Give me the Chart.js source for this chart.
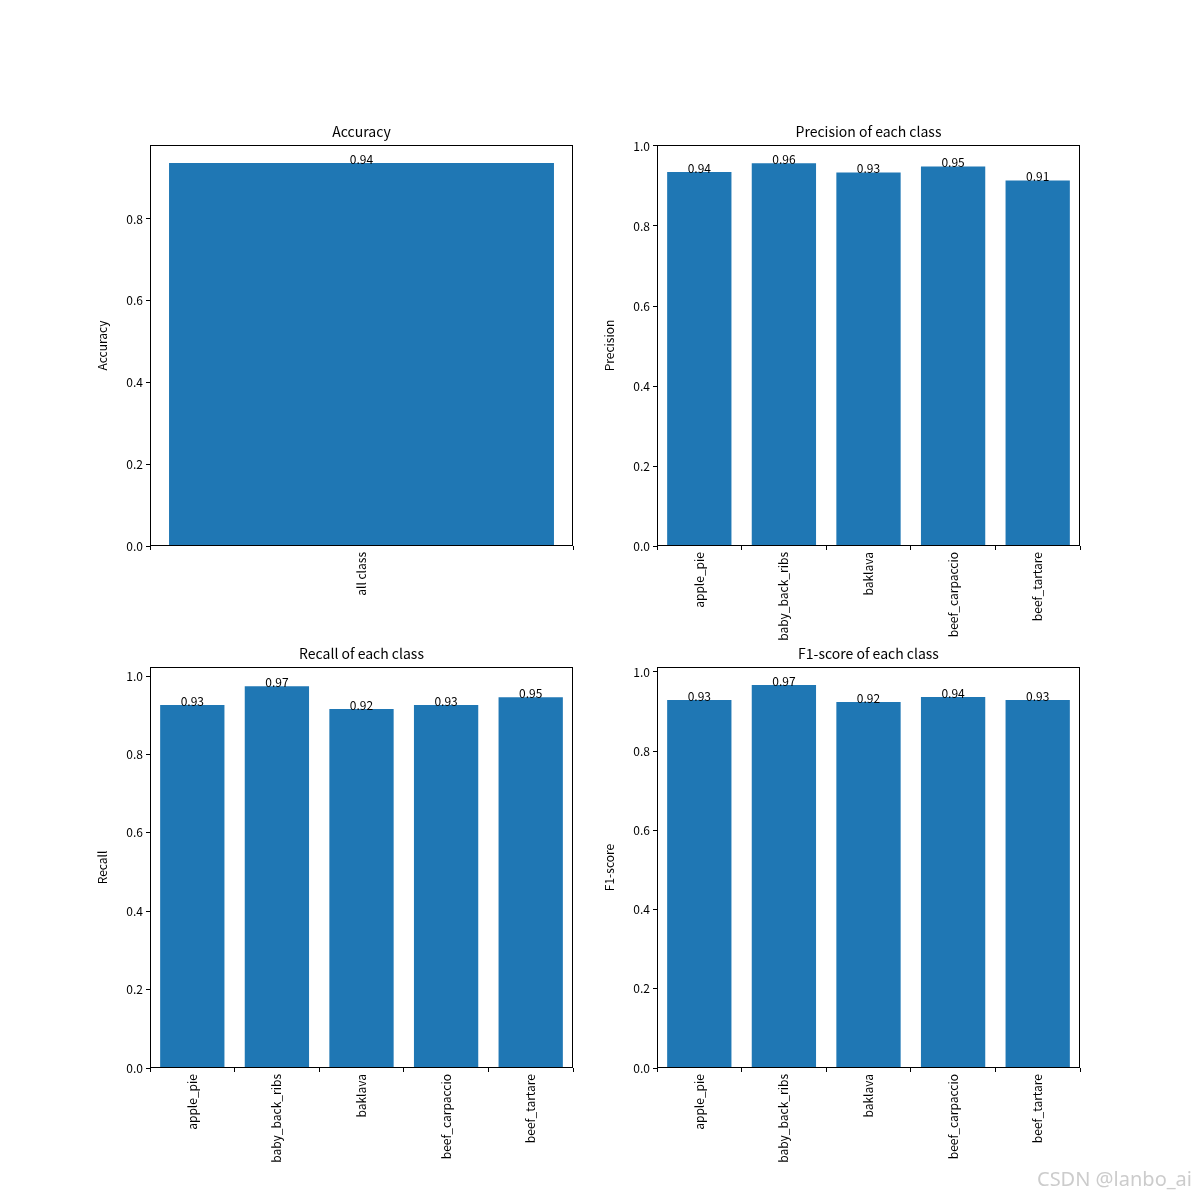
<!DOCTYPE html>
<html><head><meta charset="utf-8">
<script src="https://cdn.jsdelivr.net/npm/chart.js@4"></script>
<style>body{margin:0;width:1200px;height:1200px;background:#fff;position:relative;overflow:hidden}
.c{position:absolute}</style></head><body>
<div class="c" id="w0"><canvas id="c0"></canvas></div>
<div class="c" id="w1"><canvas id="c1"></canvas></div>
<div class="c" id="w2"><canvas id="c2"></canvas></div>
<div class="c" id="w3"><canvas id="c3"></canvas></div>
<div style="position:absolute;right:8px;bottom:8px;font:20px 'Noto Sans';color:#ccc">CSDN @lanbo_ai</div>
<script>
const classes = ['apple_pie','baby_back_ribs','baklava','beef_carpaccio','beef_tartare'];
const accCategories = ['all class'];
const accuracy = [0.937];
const precision = [0.935, 0.957, 0.934, 0.949, 0.914];
const recall = [0.926, 0.974, 0.916, 0.926, 0.946];
const f1 = [0.929, 0.967, 0.924, 0.937, 0.929];
const yTicks = [0, 0.2, 0.4, 0.6, 0.8, 1.0];

const FONT = "'Noto Sans CJK SC', 'DejaVu Sans'";
const PL = 55, PT = 35, PR = 5, PB = 110;
const panels = [
  {id:0, left:150, top:145, w:423, h:401, title:'Accuracy', ylab:'Accuracy', labels:accCategories, data:accuracy, max:0.981, bp:0.91},
  {id:1, left:657, top:145, w:423, h:401, title:'Precision of each class', ylab:'Precision', labels:classes, data:precision, max:1.0025, bp:0.76},
  {id:2, left:150, top:667, w:423, h:401, title:'Recall of each class', ylab:'Recall', labels:classes, data:recall, max:1.023, bp:0.76},
  {id:3, left:657, top:667, w:423, h:401, title:'F1-score of each class', ylab:'F1-score', labels:classes, data:f1, max:1.0126, bp:0.76},
];
const deco = {
  id:'deco',
  afterDatasetsDraw(chart){
    const ctx = chart.ctx, a = chart.chartArea, p = chart.options.plugins.deco;
    ctx.save();
    ctx.strokeStyle='#000'; ctx.lineWidth=1;
    ctx.strokeRect(a.left+0.5, a.top+0.5, a.right-a.left-1, a.bottom-a.top-1);
    ctx.fillStyle='#000'; ctx.textAlign='center'; ctx.textBaseline='bottom';
    ctx.font = '14px ' + FONT;
    ctx.fillText(p.title, (a.left+a.right)/2, a.top-6);
    ctx.font = '12px ' + FONT;
    const meta = chart.getDatasetMeta(0);
    meta.data.forEach((bar,i)=>{
      ctx.fillText(chart.data.datasets[0].data[i].toFixed(2), bar.x, bar.y+2);
    });
    ctx.restore();
  }
};
panels.forEach(p=>{
  const w = document.getElementById('w'+p.id);
  w.style.left=(p.left-PL)+'px'; w.style.top=(p.top-PT)+'px';
  w.style.width=(p.w+PL+PR)+'px'; w.style.height=(p.h+PT+PB)+'px';
  new Chart(document.getElementById('c'+p.id), {
    type:'bar',
    data:{labels:p.labels, datasets:[{data:p.data, backgroundColor:'#1f77b4', categoryPercentage:1, barPercentage:p.bp}]},
    options:{
      responsive:true, maintainAspectRatio:false, animation:false,
      layout:{padding:{top:PT, right:PR, left:0, bottom:0}},
      plugins:{legend:{display:false}, tooltip:{enabled:false}, deco:{title:p.title}},
      scales:{
        x:{grid:{drawOnChartArea:false, drawTicks:true, tickLength:4, color:'#000'}, border:{display:false},
           ticks:{color:'#000', font:{family:FONT, size:12}, minRotation:90, maxRotation:90, autoSkip:false, padding:2},
           afterFit(s){s.height=PB;}},
        y:{min:0, max:p.max, grid:{drawOnChartArea:false, drawTicks:true, tickLength:4, color:'#000'}, border:{display:false},
           afterBuildTicks(s){s.ticks=yTicks.filter(v=>v<=p.max).map(v=>({value:v}));},
           ticks:{color:'#000', font:{family:FONT, size:12}, callback:v=>v.toFixed(1), padding:3},
           title:{display:true, text:p.ylab, color:'#000', font:{family:FONT, size:12}, padding:0},
           afterFit(s){s.width=PL;}}
      }
    },
    plugins:[deco]
  });
});
</script></body></html>
